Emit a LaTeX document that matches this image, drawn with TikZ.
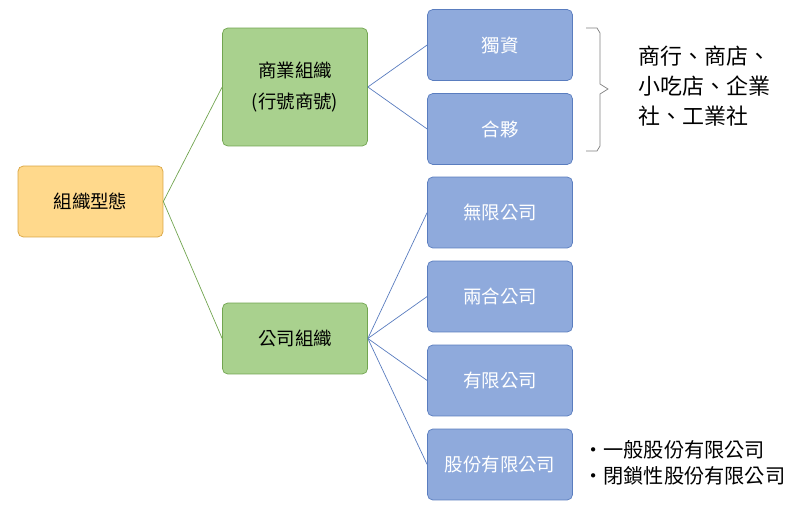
\documentclass[tikz,border=0pt]{standalone}
\usepackage{fontspec}
\setmainfont{Noto Sans CJK TC}
\usetikzlibrary{positioning}
\definecolor{orgfill}{HTML}{FFD98C}
\definecolor{orgline}{HTML}{D9A441}
\definecolor{grnfill}{HTML}{A9D18E}
\definecolor{grnline}{HTML}{72A550}
\definecolor{blufill}{HTML}{8FAADC}
\definecolor{bluline}{HTML}{5A7DBF}
\tikzset{
  box/.style={rounded corners=3pt, minimum width=2.9cm, minimum height=1.42cm, align=center, font=\fontsize{10.5}{18}\selectfont},
  rootbox/.style={box, fill=orgfill, draw=orgline},
  grnbox/.style={box, fill=grnfill, draw=grnline},
  blubox/.style={box, fill=blufill, draw=bluline, text=white},
}
\begin{document}
\begin{tikzpicture}[x=0.02cm,y=-0.02cm]
        \useasboundingbox (0,0) rectangle (805,510);
        \node[rootbox] (root) at (90.5,201.5) {組織型態};
        \node[grnbox, minimum height=2.36cm] (biz) at (295,87) {商業組織\\(行號商號)};
        \node[grnbox] (corp) at (295,338.5) {公司組織};
        \node[blubox] (sole) at (500,45) {獨資};
        \node[blubox] (part) at (500,129) {合夥};
        \node[blubox] (unl) at (500,212.5) {無限公司};
        \node[blubox] (mix) at (500,296.5) {兩合公司};
        \node[blubox] (ltd) at (500,380.5) {有限公司};
        \node[blubox] (share) at (500,464.5) {股份有限公司};
        \draw[grnline] (root.east) -- (biz.west) (root.east) -- (corp.west);
        \foreach \c in {sole,part} \draw[bluline] (biz.east) -- (\c.west);
        \foreach \c in {unl,mix,ltd,share} \draw[bluline] (corp.east) -- (\c.west);
        \coordinate (bt) at (586,28);
        \coordinate (bb) at (586,151);
        \draw[gray] (bt) -- (597,28) -- (600,33) -- (600,84) -- (608,89) -- (600,94) -- (600,146) -- (597,151) -- (bb);
        \node[anchor=west, align=left, font=\fontsize{12.5}{17}\selectfont] (shops) at (632,86) {商行、商店、\\小吃店、企業\\社、工業社};
        \node[anchor=west, align=left, inner sep=0pt, font=\fontsize{11.5}{14.5}\selectfont] (kinds) at (583,463) {•一般股份有限公司\\•閉鎖性股份有限公司};
\end{tikzpicture}
\end{document}
